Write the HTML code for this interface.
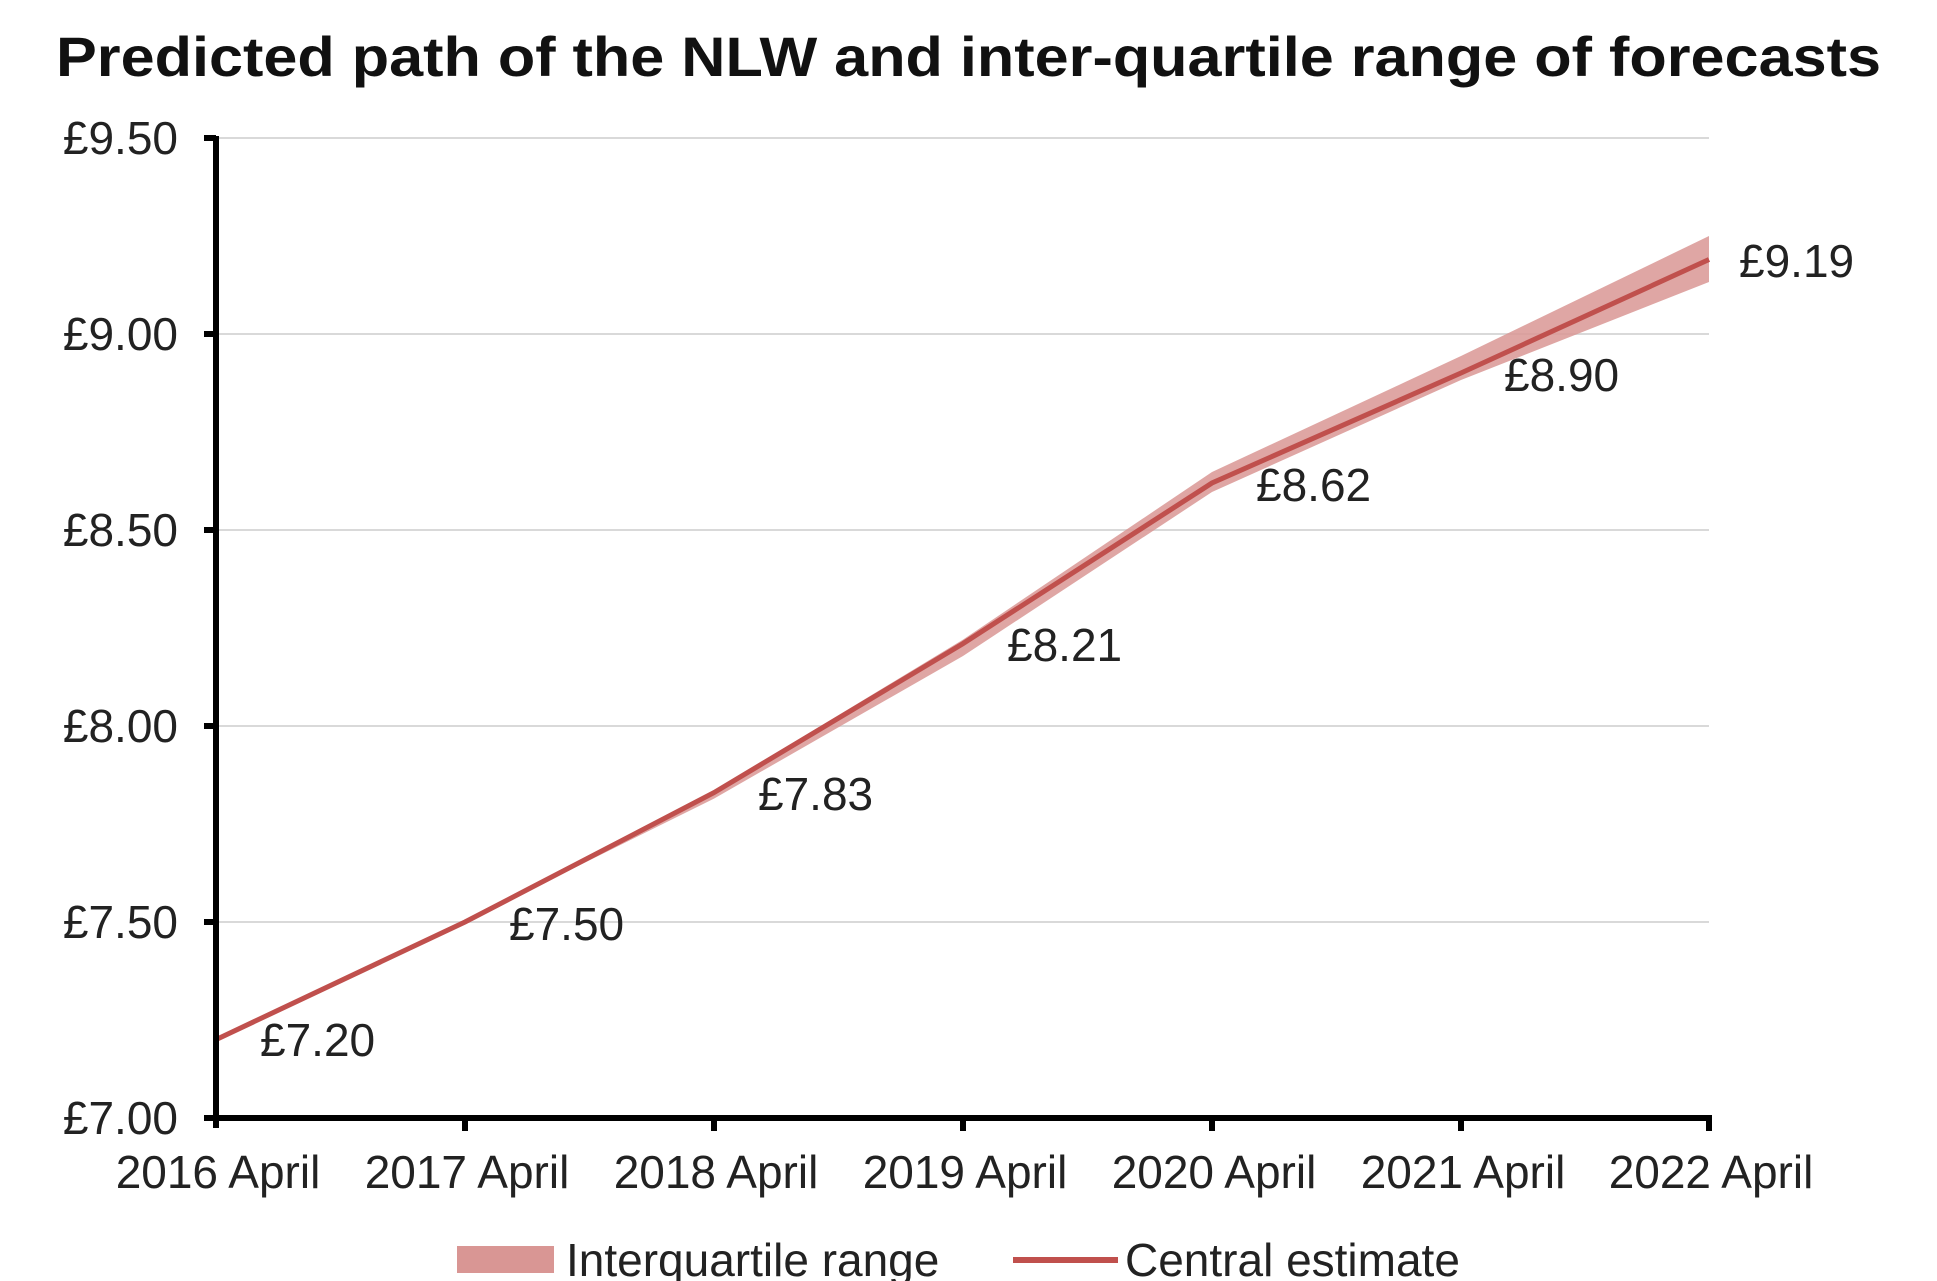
<!DOCTYPE html>
<html><head><meta charset="utf-8"><style>
html,body{margin:0;padding:0;background:#fff;}
svg{display:block;font-family:"Liberation Sans",Arial,sans-serif;}
</style></head><body>
<svg width="1937" height="1281" viewBox="0 0 1937 1281" xmlns="http://www.w3.org/2000/svg">
<rect width="1937" height="1281" fill="#fff"/>
<text x="56" y="76" font-size="56" font-weight="bold" fill="#111" textLength="1825" lengthAdjust="spacingAndGlyphs">Predicted path of the NLW and inter-quartile range of forecasts</text>
<g stroke="#d9d9d9" stroke-width="2">
<line x1="216" y1="138" x2="1709" y2="138"/>
<line x1="216" y1="334" x2="1709" y2="334"/>
<line x1="216" y1="530" x2="1709" y2="530"/>
<line x1="216" y1="726" x2="1709" y2="726"/>
<line x1="216" y1="922" x2="1709" y2="922"/>
</g>
<g font-size="46" fill="#222" text-anchor="end">
<text x="178" y="154">£9.50</text>
<text x="178" y="350">£9.00</text>
<text x="178" y="546">£8.50</text>
<text x="178" y="742">£8.00</text>
<text x="178" y="938">£7.50</text>
<text x="178" y="1134">£7.00</text>
</g>
<polygon fill="#d99694" opacity="0.85" points="216,1039.6 465,922 714,790.6 963,639.6 1212,472 1461,356 1709,236 1709,282 1461,380 1212,492 963,656 714,798.6 465,922 216,1039.6"/>
<polyline fill="none" stroke="#c0504d" stroke-width="5" points="216,1039.6 465,922 714,792.6 963,643.6 1212,483 1461,373 1709,259.5"/>
<line x1="216" y1="136" x2="216" y2="1128" stroke="#000" stroke-width="6"/>
<line x1="204" y1="1118" x2="1712" y2="1118" stroke="#000" stroke-width="6"/>
<g stroke="#000" stroke-width="6">
<line x1="204" y1="138" x2="216" y2="138"/><line x1="204" y1="334" x2="216" y2="334"/>
<line x1="204" y1="530" x2="216" y2="530"/><line x1="204" y1="726" x2="216" y2="726"/>
<line x1="204" y1="922" x2="216" y2="922"/>
<line x1="465" y1="1118" x2="465" y2="1131"/><line x1="714" y1="1118" x2="714" y2="1131"/>
<line x1="963" y1="1118" x2="963" y2="1131"/><line x1="1212" y1="1118" x2="1212" y2="1131"/>
<line x1="1461" y1="1118" x2="1461" y2="1131"/><line x1="1709" y1="1118" x2="1709" y2="1131"/>
</g>
<g font-size="46" fill="#222" text-anchor="middle">
<text x="218" y="1188">2016 April</text>
<text x="467" y="1188">2017 April</text>
<text x="716" y="1188">2018 April</text>
<text x="965" y="1188">2019 April</text>
<text x="1214" y="1188">2020 April</text>
<text x="1463" y="1188">2021 April</text>
<text x="1711" y="1188">2022 April</text>
</g>
<g font-size="46" fill="#222">
<text x="260" y="1056">£7.20</text>
<text x="509" y="940">£7.50</text>
<text x="758" y="810">£7.83</text>
<text x="1007" y="661">£8.21</text>
<text x="1256" y="501">£8.62</text>
<text x="1504" y="391">£8.90</text>
<text x="1739" y="277">£9.19</text>
</g>
<rect x="457" y="1246" width="97" height="27" fill="#d99694"/>
<text x="566" y="1276" font-size="46" fill="#222">Interquartile range</text>
<line x1="1013" y1="1260" x2="1118" y2="1260" stroke="#c0504d" stroke-width="6"/>
<text x="1125" y="1276" font-size="46" fill="#222">Central estimate</text>
</svg>
</body></html>
